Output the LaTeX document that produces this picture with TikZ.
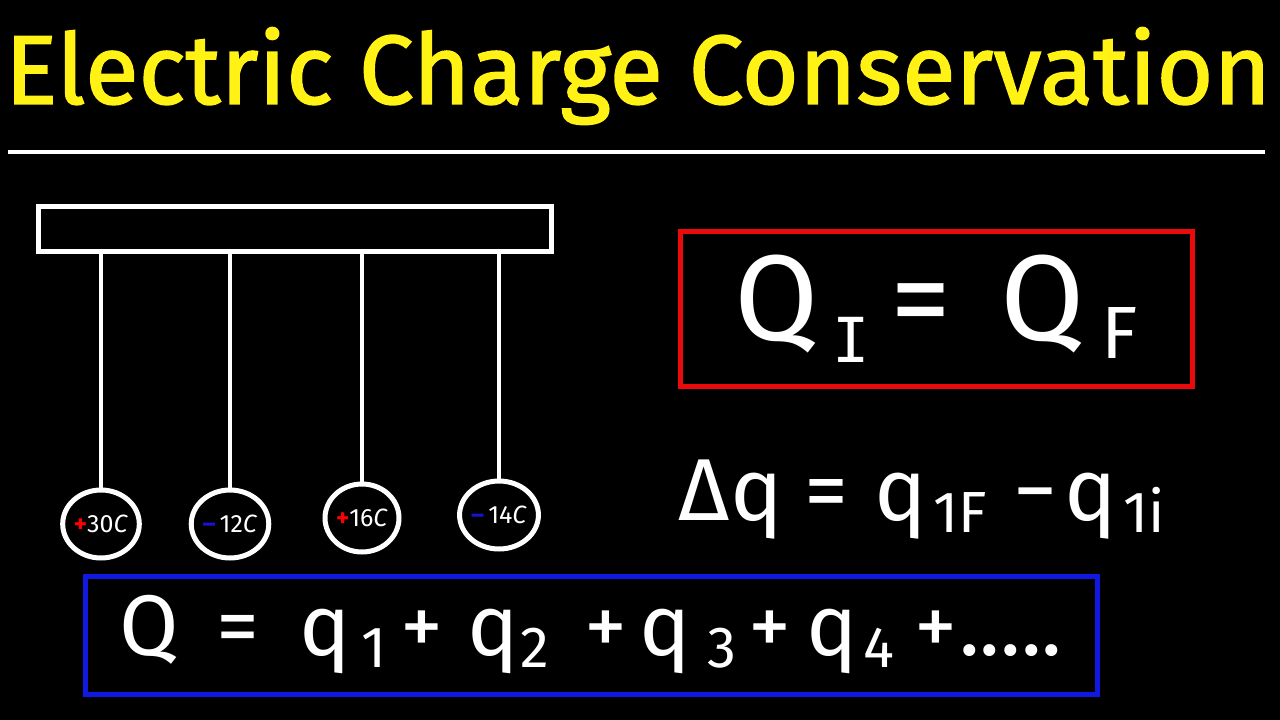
\documentclass[tikz,border=0pt]{standalone}
\usepackage{fontspec}
\setmainfont{Fira Sans}
\newfontfamily\slabfont{DejaVu Sans Mono}
\usepackage{tikz}
\usetikzlibrary{shapes.geometric}
\definecolor{titleyellow}{RGB}{255,242,20}
\definecolor{boxred}{RGB}{235,10,10}
\definecolor{boxblue}{RGB}{15,25,225}
\definecolor{minusblue}{RGB}{20,20,210}

\newcommand{\sz}[1]{\fontsize{#1}{#1}\selectfont}
\newcommand{\sub}[3][-12pt]{\raisebox{#1}{\sz{#2}#3}}

\begin{document}
\begin{tikzpicture}[x=1pt, y=-1pt,
  ball/.style={draw=white, line width=5pt, ellipse, minimum width=74pt, minimum height=68pt,
    inner sep=0pt, text=white, font=\sz{25}},
  eqbox/.style={line width=5pt, text=white, inner sep=0pt},
  string/.style={white, line width=4pt}]
\fill[black] (0,0) rectangle (1280,720);
\useasboundingbox (0,0) rectangle (1280,720);

\node (title) at (638,76) [text=titleyellow, font=\sz{98}\addfontfeatures{FakeBold=1.5}] {Electric Charge Conservation};
\draw[white, line width=4pt] (8,152) -- (1265,152);

% bar and charged balls
\node (bar) at (294.5,228.5) [draw=white, line width=5pt, minimum width=513pt, minimum height=45pt] {};
\node (b1) at (101,524) [ball] {\textcolor{red}{\textbf{+}}30\textit{C}};
\node (b2) at (230,524) [ball] {\textcolor{minusblue}{\textbf{–}}\,12\textit{C}};
\node (b3) at (362,518) [ball] {\textcolor{red}{\textbf{+}}16\textit{C}};
\node (b4) at (499,515) [ball] {\textcolor{minusblue}{\textbf{–}}\,14\textit{C}};
\foreach \b in {b1,b2,b3,b4}
  \draw[string] (\b) -- (\b |- bar.south);

% equations
\node (cons) at (936,309) [eqbox, draw=boxred, minimum width=512pt, minimum height=155pt, font=\sz{122}]
  {Q\hspace{14pt}\sub[-22pt]{62}{\slabfont I}\hspace{20pt}=\hspace{50pt}Q\hspace{16pt}\sub[-18pt]{74}{F}\hspace{24pt}};
\node (delta) at (922,500) [text=white, font=\sz{88}]
  {Δq\hspace{22pt}=\hspace{26pt}q\hspace{6pt}\sub{58}{1F}\hspace{26pt}−\hspace{8pt}q\hspace{6pt}\sub{58}{1i}};
\node (sum) at (591,635) [eqbox, draw=boxblue, minimum width=1012pt, minimum height=118pt, font=\sz{86}]
  {Q\hspace{37pt}=\hspace{40pt}q\hspace{11pt}\sub{58}{1}\hspace{14pt}+\hspace{24pt}q\hspace{1pt}\sub{58}{2}\hspace{36pt}+%
   \hspace{12pt}q\hspace{16pt}\sub{58}{3}\hspace{13pt}+\hspace{15pt}q\hspace{5pt}\sub{58}{4}\hspace{20pt}+\hspace{2pt}%
   .\hspace{0pt}.\hspace{0pt}.\hspace{0pt}.\hspace{0pt}.\hspace{15pt}};
\end{tikzpicture}
\end{document}
